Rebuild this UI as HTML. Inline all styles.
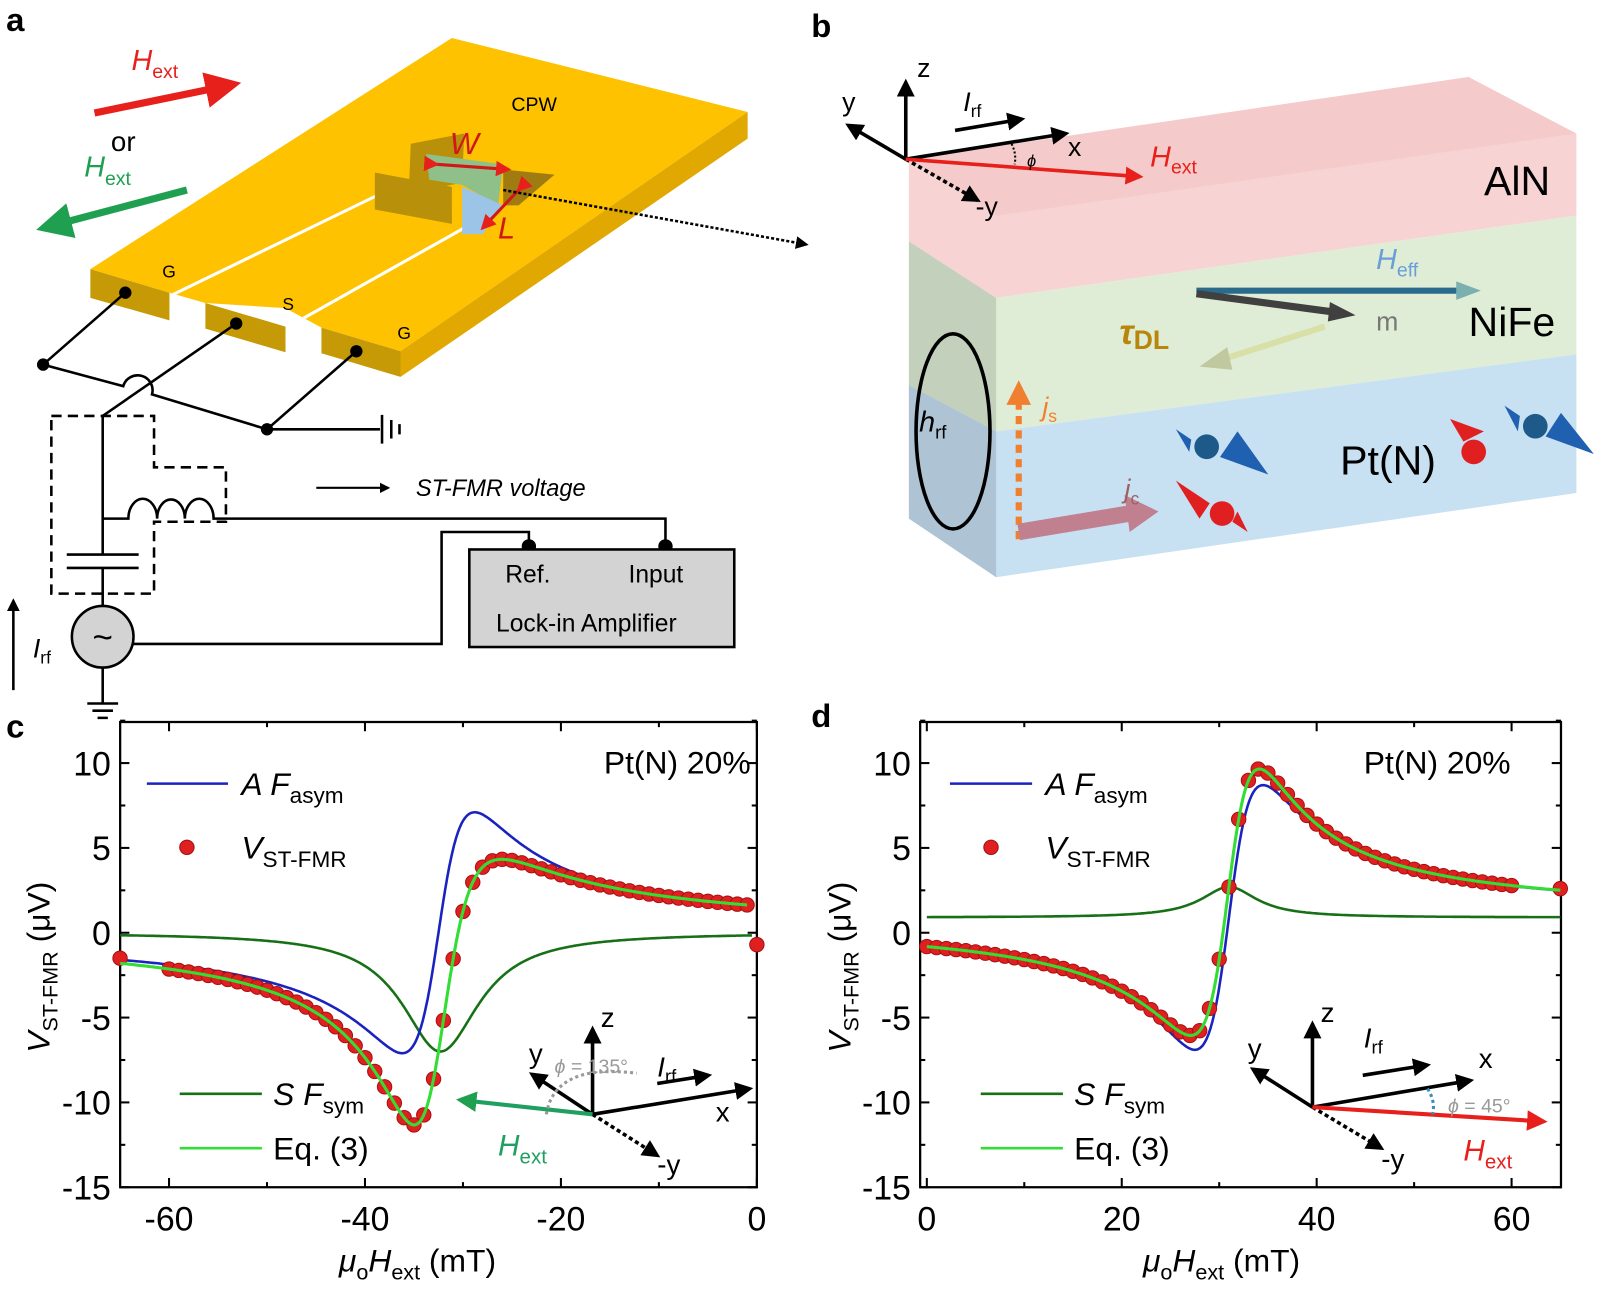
<!DOCTYPE html>
<html><head><meta charset="utf-8"><style>
html,body{margin:0;padding:0;background:#fff}
svg{display:block}
text{font-family:"Liberation Sans",Arial,sans-serif}
</style></head><body>
<svg id="s" width="1600" height="1292" viewBox="0 0 1558 1258" preserveAspectRatio="none" xmlns="http://www.w3.org/2000/svg">
<defs>
<marker id="ak" viewBox="0 0 10 10" refX="8" refY="5" markerWidth="5" markerHeight="5" orient="auto"><path d="M0,0L10,5L0,10z" fill="#000"/></marker>
<marker id="ar" viewBox="0 0 10 10" refX="8" refY="5" markerWidth="5" markerHeight="5" orient="auto"><path d="M0,0L10,5L0,10z" fill="#e8201c"/></marker>
<marker id="ag" viewBox="0 0 10 10" refX="8" refY="5" markerWidth="5" markerHeight="5" orient="auto"><path d="M0,0L10,5L0,10z" fill="#1fa050"/></marker>
<marker id="ao" viewBox="0 0 10 10" refX="8" refY="5" markerWidth="4" markerHeight="4" orient="auto"><path d="M0,0L10,5L0,10z" fill="#f08030"/></marker>
<clipPath id="cc"><rect x="117" y="703" width="620" height="453"/></clipPath>
<clipPath id="cd"><rect x="896" y="703" width="624" height="453"/></clipPath>
</defs>

<g font-weight="bold" font-size="32">
<text x="6" y="30">a</text><text x="790" y="36">b</text>
<text x="6" y="718">c</text><text x="790" y="708">d</text>
</g>

<!-- ========== Panel a ========== -->
<g>
<polygon points="88,262 440,37 728,109 390,342 313,319 278,300 200,295 165,285" fill="#fec200"/>
<polygon points="88,262 165,285 165,312 88,290" fill="#c59a06"/>
<polygon points="200,295 278,318 278,343 200,320" fill="#c59a06"/>
<polygon points="313,319 390,342 390,367 313,344" fill="#c59a06"/>
<polygon points="728,109 728,135 390,367 390,342" fill="#e0a800"/>
<line x1="168" y1="287" x2="372" y2="188" stroke="#fff" stroke-width="3"/>
<line x1="281" y1="318" x2="452" y2="222" stroke="#fff" stroke-width="3"/>
<polygon points="400,140 452,130 450,178 398,188" fill="#b8900a"/>
<polygon points="365,168 440,182 440,218 365,204" fill="#b8900a"/>
<polygon points="415,150 490,160 485,200 450,180 418,175" fill="#8fc08a"/>
<polygon points="450,182 490,200 470,228 450,228" fill="#9cc4e6"/>
<polygon points="490,165 540,170 505,200 490,200" fill="#a07c10"/>
<line x1="425" y1="160" x2="495" y2="165" stroke="#d01818" stroke-width="3" marker-end="url(#ar)" marker-start="url(#ar)"/>
<line x1="505" y1="185" x2="470" y2="222" stroke="#d01818" stroke-width="3" marker-end="url(#ar)" marker-start="url(#ar)"/>
<text x="438" y="150" font-size="30" fill="#d01818" font-style="italic">W</text>
<text x="485" y="232" font-size="30" fill="#d01818" font-style="italic">L</text>
<text x="498" y="108" font-size="19">CPW</text>
<text x="158" y="270" font-size="17">G</text>
<text x="275" y="302" font-size="17">S</text>
<text x="387" y="330" font-size="17">G</text>
<line x1="490" y1="185" x2="785" y2="238" stroke="#000" stroke-width="2.5" stroke-dasharray="3,2" marker-end="url(#ak)"/>
<line x1="92" y1="110" x2="228" y2="82" stroke="#e8201c" stroke-width="7" marker-end="url(#ar)"/>
<text x="128" y="68" font-size="28" fill="#e8201c" font-style="italic">H<tspan font-size="19" font-style="normal" dy="8">ext</tspan></text>
<text x="108" y="147" font-size="27">or</text>
<line x1="182" y1="185" x2="42" y2="222" stroke="#1fa050" stroke-width="7" marker-end="url(#ag)"/>
<text x="82" y="172" font-size="28" fill="#1fa050" font-style="italic">H<tspan font-size="19" font-style="normal" dy="8">ext</tspan></text>
<g stroke="#000" stroke-width="2.5" fill="none">
<path d="M122,285 L42,355 L120,376 A14,14 0 0 1 148,384 L260,418 L347,342"/>
<path d="M260,418 L370,418 M372,404 V432 M381,409 V427 M389,413 V423"/>
<path d="M230,315 L100,405 V540 M65,540 H135 M65,553 H135 M100,553 V590"/>
<path d="M100,505 H125 A13,18 0 0 1 153,505 A13,18 0 0 1 180,505 A13,18 0 0 1 208,505 H648 V530"/>
<path d="M515,532 V518 H430 V627 H130"/>
<path d="M100,650 V685 M85,685 H115 M90,692 H110 M95,699 H105"/>
<path d="M50,405 H150 V455 H220 V508 H150 V578 H50 Z" stroke-dasharray="10,6"/>
<circle cx="100" cy="620" r="30" fill="#d3d3d3"/>
</g>
<text x="84" y="632" font-size="34" text-anchor="middle" dx="16">~</text>
<g fill="#000"><circle cx="122" cy="285" r="6"/><circle cx="230" cy="315" r="6"/><circle cx="347" cy="342" r="6"/><circle cx="42" cy="355" r="6"/><circle cx="260" cy="418" r="6"/><circle cx="515" cy="532" r="7"/><circle cx="648" cy="532" r="7"/></g>
<rect x="457" y="535" width="258" height="95" fill="#d3d3d3" stroke="#000" stroke-width="2.5"/>
<text x="492" y="567" font-size="24">Ref.</text><text x="612" y="567" font-size="24">Input</text>
<text x="483" y="615" font-size="24">Lock-in Amplifier</text>
<line x1="308" y1="475" x2="378" y2="475" stroke="#000" stroke-width="2" marker-end="url(#ak)"/>
<text x="405" y="483" font-size="23" font-style="italic">ST-FMR voltage</text>
<line x1="13" y1="672" x2="13" y2="585" stroke="#000" stroke-width="2.5" marker-end="url(#ak)"/>
<text x="32" y="640" font-size="26" font-style="italic">I<tspan font-size="17" font-style="normal" dy="6">rf</tspan></text>
</g>

<!-- ========== Panel b ========== -->
<g>
<polygon points="885,155 1430,75 1535,130 1535,210 970,290 885,235" fill="#f7d3d3"/>
<polygon points="885,235 970,290 1535,210 1535,345 970,420 885,375" fill="#dfedd6"/>
<polygon points="885,375 970,420 1535,345 1535,480 970,562 885,505" fill="#c7e0f2"/>
<polygon points="885,155 1430,75 1535,130 970,210" fill="#f4c4c4" opacity="0.6"/>
<polygon points="885,235 970,290 970,562 885,505" fill="#000" opacity="0.12"/>
<ellipse cx="928" cy="420" rx="36" ry="95" fill="none" stroke="#000" stroke-width="3.5"/>
<text x="895" y="420" font-size="28" font-style="italic">h<tspan font-size="18" font-style="normal" dy="7">rf</tspan></text>
<line x1="992" y1="525" x2="992" y2="375" stroke="#f08030" stroke-width="6" stroke-dasharray="8,6" marker-end="url(#ao)"/>
<text x="1015" y="405" font-size="26" fill="#f08030" font-style="italic">j<tspan font-size="17" font-style="normal" dy="6">s</tspan></text>
<line x1="992" y1="518" x2="1100" y2="500" stroke="#c08090" stroke-width="16"/>
<polygon points="1095,482 1128,498 1100,518" fill="#c08090"/>
<text x="1095" y="485" font-size="26" fill="#a06060" font-style="italic">j<tspan font-size="17" font-style="normal" dy="6">c</tspan></text>
<line x1="1165" y1="283" x2="1420" y2="283" stroke="#2a6a8a" stroke-width="6"/>
<polygon points="1418,274 1442,283 1418,292" fill="#7ab0b0"/>
<text x="1340" y="262" font-size="28" fill="#6a9ed6" font-style="italic">H<tspan font-size="19" font-style="normal" dy="7">eff</tspan></text>
<line x1="1165" y1="286" x2="1300" y2="304" stroke="#404040" stroke-width="7"/>
<polygon points="1295,294 1320,307 1293,313" fill="#404040"/>
<line x1="1290" y1="318" x2="1190" y2="350" stroke="#d8e0a8" stroke-width="6"/>
<polygon points="1195,338 1168,357 1200,360" fill="#c0c8a0"/>
<text x="1340" y="322" font-size="26" fill="#777">m</text>
<text x="1090" y="335" font-size="34" fill="#b8860b" font-weight="bold" font-family="Liberation Serif,serif" font-style="italic">τ<tspan font-size="26" font-style="normal" dy="5">DL</tspan></text>
<text x="1445" y="190" font-size="40">AlN</text>
<text x="1430" y="327" font-size="40">NiFe</text>
<text x="1305" y="462" font-size="40">Pt(N)</text>
<g>
<circle cx="1175" cy="435" r="12" fill="#1d5a8a"/><polygon points="1188,445 1235,462 1205,420" fill="#2060b0"/><polygon points="1160,428 1145,418 1158,440" fill="#2060b0"/>
<circle cx="1190" cy="500" r="12" fill="#e02020"/><polygon points="1178,490 1145,468 1168,505" fill="#e02020"/><polygon points="1200,508 1215,518 1205,498" fill="#e02020"/>
<circle cx="1435" cy="440" r="12" fill="#e02020"/><polygon points="1425,430 1412,408 1445,420" fill="#e02020"/>
<circle cx="1495" cy="415" r="12" fill="#1d5a8a"/><polygon points="1505,425 1552,442 1520,402" fill="#2060b0"/><polygon points="1480,405 1465,395 1478,420" fill="#2060b0"/>
</g>
<g stroke="#000" stroke-width="3.5" fill="none" marker-end="url(#ak)">
<line x1="882" y1="155" x2="882" y2="80"/>
<line x1="882" y1="155" x2="826" y2="122"/>
<line x1="882" y1="155" x2="1038" y2="130"/>
<line x1="930" y1="127" x2="995" y2="116"/>
<line x1="882" y1="155" x2="952" y2="195" stroke-dasharray="4,3"/>
</g>
<line x1="882" y1="155" x2="1110" y2="172" stroke="#e8201c" stroke-width="3.5" marker-end="url(#ar)"/>
<path d="M985,140 Q990,150 988,160" stroke="#000" stroke-width="2" stroke-dasharray="2,2" fill="none"/>
<text x="893" y="75" font-size="26">z</text><text x="820" y="108" font-size="26">y</text>
<text x="1040" y="152" font-size="26">x</text><text x="950" y="210" font-size="26">-y</text>
<text x="938" y="108" font-size="26" font-style="italic">I<tspan font-size="17" font-style="normal" dy="6">rf</tspan></text>
<text x="1000" y="162" font-size="16" font-style="italic">ϕ</text>
<text x="1120" y="162" font-size="28" fill="#e8201c" font-style="italic">H<tspan font-size="19" font-style="normal" dy="7">ext</tspan></text>
</g>

<g id="plots"></g>

<g font-size="31">
<text x="588" y="753">Pt(N) 20%</text>
<line x1="143" y1="763" x2="222" y2="763" stroke="#1a22c0" stroke-width="2.5"/>
<text x="235" y="774" font-style="italic">A F<tspan font-size="22" font-style="normal" dy="8">asym</tspan></text>
<circle cx="182" cy="825" r="7" fill="#e02020" stroke="#a01010"/>
<text x="235" y="836" font-style="italic">V<tspan font-size="22" font-style="normal" dy="8">ST-FMR</tspan></text>
<line x1="175" y1="1065" x2="255" y2="1065" stroke="#167016" stroke-width="2.5"/>
<text x="266" y="1076" font-style="italic">S F<tspan font-size="22" font-style="normal" dy="8">sym</tspan></text>
<line x1="175" y1="1118" x2="255" y2="1118" stroke="#33dd33" stroke-width="2.5"/>
<text x="266" y="1129">Eq. (3)</text>
<text x="1328" y="753">Pt(N) 20%</text>
<line x1="925" y1="763" x2="1005" y2="763" stroke="#1a22c0" stroke-width="2.5"/>
<text x="1018" y="774" font-style="italic">A F<tspan font-size="22" font-style="normal" dy="8">asym</tspan></text>
<circle cx="965" cy="825" r="7" fill="#e02020" stroke="#a01010"/>
<text x="1018" y="836" font-style="italic">V<tspan font-size="22" font-style="normal" dy="8">ST-FMR</tspan></text>
<line x1="955" y1="1065" x2="1035" y2="1065" stroke="#167016" stroke-width="2.5"/>
<text x="1046" y="1076" font-style="italic">S F<tspan font-size="22" font-style="normal" dy="8">sym</tspan></text>
<line x1="955" y1="1118" x2="1035" y2="1118" stroke="#33dd33" stroke-width="2.5"/>
<text x="1046" y="1129">Eq. (3)</text>
</g>
<g font-size="31">
<text x="330" y="1238" font-style="italic">μ<tspan font-size="21" font-style="normal" dy="8">o</tspan><tspan dy="-8">H</tspan><tspan font-size="21" font-style="normal" dy="8">ext</tspan><tspan font-style="normal" dy="-8"> (mT)</tspan></text>
<text x="1113" y="1238" font-style="italic">μ<tspan font-size="21" font-style="normal" dy="8">o</tspan><tspan dy="-8">H</tspan><tspan font-size="21" font-style="normal" dy="8">ext</tspan><tspan font-style="normal" dy="-8"> (mT)</tspan></text>
<text transform="translate(48,1025) rotate(-90)" font-style="italic">V<tspan font-size="21" font-style="normal" dy="8">ST-FMR</tspan><tspan font-style="normal" dy="-8"> (μV)</tspan></text>
<text transform="translate(828,1025) rotate(-90)" font-style="italic">V<tspan font-size="21" font-style="normal" dy="8">ST-FMR</tspan><tspan font-style="normal" dy="-8"> (μV)</tspan></text>
</g>
<g stroke="#000" stroke-width="3.5" fill="none" marker-end="url(#ak)">
<line x1="577" y1="1085" x2="577" y2="1002"/><line x1="577" y1="1085" x2="518" y2="1046"/>
<line x1="577" y1="1085" x2="730" y2="1060"/><line x1="640" y1="1055" x2="690" y2="1047"/>
<line x1="577" y1="1085" x2="640" y2="1125" stroke-dasharray="4,3"/>
<line x1="1278" y1="1078" x2="1278" y2="997"/><line x1="1278" y1="1078" x2="1220" y2="1041"/>
<line x1="1278" y1="1078" x2="1432" y2="1052"/><line x1="1327" y1="1047" x2="1390" y2="1037"/>
<line x1="1278" y1="1078" x2="1345" y2="1118" stroke-dasharray="4,3"/>
</g>
<line x1="577" y1="1085" x2="448" y2="1071" stroke="#1fa060" stroke-width="4" marker-end="url(#ag)"/>
<line x1="1278" y1="1078" x2="1503" y2="1092" stroke="#e8201c" stroke-width="4" marker-end="url(#ar)"/>
<path d="M532,1085 Q540,1035 620,1045" stroke="#999" stroke-width="3" stroke-dasharray="3,3" fill="none"/>
<path d="M1390,1060 Q1398,1072 1395,1085" stroke="#3a8ac0" stroke-width="3" stroke-dasharray="3,3" fill="none"/>
<g font-size="27">
<text x="585" y="1000">z</text><text x="515" y="1035">y</text><text x="697" y="1092">x</text><text x="640" y="1143">-y</text>
<text x="640" y="1048" font-style="italic">I<tspan font-size="18" font-style="normal" dy="6">rf</tspan></text>
<text x="540" y="1045" font-size="19" fill="#999"><tspan font-style="italic">ϕ</tspan> = 135°</text>
<text x="485" y="1125" fill="#1fa060" font-style="italic" font-size="29">H<tspan font-size="20" font-style="normal" dy="8">ext</tspan></text>
<text x="1286" y="995">z</text><text x="1215" y="1030">y</text><text x="1440" y="1040">x</text><text x="1345" y="1138">-y</text>
<text x="1328" y="1020" font-style="italic">I<tspan font-size="18" font-style="normal" dy="6">rf</tspan></text>
<text x="1410" y="1083" font-size="19" fill="#999"><tspan font-style="italic">ϕ</tspan> = 45°</text>
<text x="1425" y="1130" fill="#e8201c" font-style="italic" font-size="29">H<tspan font-size="20" font-style="normal" dy="8">ext</tspan></text>
</g>
</svg>
<script>
(function(){
var NS="http://www.w3.org/2000/svg",g=document.getElementById("plots");
function el(t,a,p){var e=document.createElementNS(NS,t);for(var k in a)e.setAttribute(k,a[k]);(p||g).appendChild(e);return e;}
function Y(v){return 743+(10-v)*16.52;}
function sym(h,c,d,a){var x=h-c;return a*d*d/(x*x+d*d);}
function asy(h,c,d,a){var x=h-c;return a*2*d*x/(x*x+d*d);}
function path(f,X,h0,h1,clip,col,w){var s="";for(var h=h0;h<=h1+1e-9;h+=0.1){s+=(s?"L":"M")+X(h).toFixed(1)+","+Y(f(h)).toFixed(1);}el("path",{d:s,fill:"none",stroke:col,"stroke-width":w,"clip-path":clip});}
function axes(x0,x1,X,xt,xmin,xmax){
 el("rect",{x:x0,y:703,width:x1-x0,height:453,fill:"none",stroke:"#000","stroke-width":2.2});
 for(var v=-15;v<=12.5;v+=2.5){var y=Y(v),L=(v%5==0)?9:5;el("line",{x1:x0,y1:y,x2:x0+L,y2:y,stroke:"#000","stroke-width":2});el("line",{x1:x1,y1:y,x2:x1-L,y2:y,stroke:"#000","stroke-width":2});
  if(v%5==0){var t=el("text",{x:x0-9,y:y+12,"text-anchor":"end","font-size":33});t.textContent=v;}}
 for(var v=xmin;v<=xmax;v+=10){var x=X(v),L=(v%20==0)?9:5;el("line",{x1:x,y1:1156,x2:x,y2:1156-L,stroke:"#000","stroke-width":2});el("line",{x1:x,y1:703,x2:x,y2:703+L,stroke:"#000","stroke-width":2});
  if(v%20==0){var t=el("text",{x:x,y:1198,"text-anchor":"middle","font-size":33});t.textContent=v;}}
}
var Xc=function(v){return 737+v*9.54;};
axes(117,737,Xc,null,-60,0);
path(function(h){return sym(h,-32.3,4.8,-7);},Xc,-65,-0.5,"url(#cc)","#167016",2.5);
path(function(h){return asy(h,-32.5,3.7,7.1);},Xc,-65,-0.5,"url(#cc)","#1a22c0",2.5);
var fc=function(h){return sym(h,-32.5,4,-7)+asy(h,-32.5,4,7);};
for(var h=-60;h<=-1;h+=1){var v=fc(h);el("circle",{cx:Xc(h),cy:Y(v),r:7,fill:"#e02020",stroke:"#a81010","stroke-width":1});}
[[-65,-1.5],[0,-0.7]].forEach(function(p){el("circle",{cx:Xc(p[0]),cy:Y(p[1]),r:7,fill:"#e02020",stroke:"#a81010","stroke-width":1});});
path(fc,Xc,-65,-1,"url(#cc)","#33dd33",3);
var Xd=function(v){return 902.5+v*9.49;};
axes(896,1520,Xd,null,0,60);
path(function(h){return 0.9+sym(h,31,3.5,1.8);},Xd,0,65,"url(#cd)","#167016",2.5);
path(function(h){return 0.9+asy(h,31,3.5,7.8);},Xd,0,65,"url(#cd)","#1a22c0",2.5);
var fd=function(h){return 0.9+asy(h,31,3.5,7.8)+sym(h,31,3.5,1.8);};
for(var h=0;h<=60;h+=1){el("circle",{cx:Xd(h),cy:Y(fd(h)),r:7,fill:"#e02020",stroke:"#a81010","stroke-width":1});}
el("circle",{cx:Xd(65),cy:Y(2.6),r:7,fill:"#e02020",stroke:"#a81010","stroke-width":1});
path(fd,Xd,0,65,"url(#cd)","#33dd33",3);
})();
</script>
</body></html>
